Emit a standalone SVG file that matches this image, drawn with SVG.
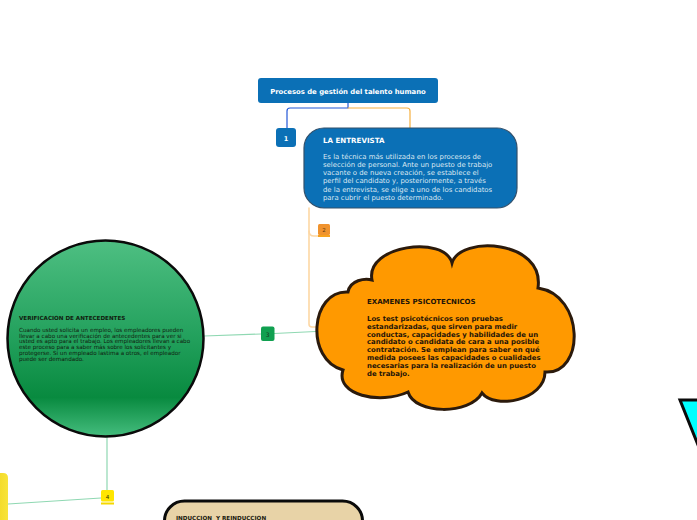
<svg xmlns="http://www.w3.org/2000/svg" width="697" height="520" viewBox="0 0 697 520">
<style>
.t{font-family:"DejaVu Sans","Verdana",sans-serif}
.b{font-weight:bold}
.conn{fill:none;stroke-linecap:round;stroke-linejoin:round}
</style>
<defs>
<linearGradient id="gg" x1="0" y1="0" x2="0" y2="1">
<stop offset="0" stop-color="#4ebf82"/>
<stop offset="0.5" stop-color="#22a05c"/>
<stop offset="0.8" stop-color="#088a3f"/>
<stop offset="1" stop-color="#45bd7e"/>
</linearGradient>
<linearGradient id="yg" x1="0" y1="0" x2="1" y2="0">
<stop offset="0" stop-color="#f0d21a"/>
<stop offset="1" stop-color="#f8e43a"/>
</linearGradient>
</defs>
<rect width="697" height="520" fill="#ffffff"/>

<g id="connectors">
<path class="conn" d="M348,103 V108 M348,108 H290 Q287,108 287,111 V128" stroke="#2358d8" stroke-width="1.2"/>
<path class="conn" d="M348,108 H407 Q410,108 410,111 V128" stroke="#f6b040" stroke-width="1.2"/>
<path class="conn" d="M309,208 V324 Q309,327 312,327 H328" stroke="#fdd7a4" stroke-width="1.6"/>
<path class="conn" d="M309,231 Q309,236 314,236 H318" stroke="#fdd7a4" stroke-width="1.6"/>
<path class="conn" d="M204,336 L261,334 M274,333.5 L326,331" stroke="#8fd8b2" stroke-width="1.2"/>
<path class="conn" d="M107,437 V490 M101,498 L8,504" stroke="#8fd8b2" stroke-width="1.2"/>
</g>

<g id="root">
<rect x="258" y="78" width="180" height="25" rx="3" fill="#0b70b6"/>
<text class="t b" x="348" y="93.5" font-size="6.85" fill="#ffffff" text-anchor="middle">Procesos de gestión del talento humano</text>
</g>

<g id="badge1">
<rect x="276" y="128" width="20" height="19" rx="3" fill="#0b70b6"/>
<text class="t b" x="286" y="140.5" font-size="6.5" fill="#ffffff" text-anchor="middle">1</text>
</g>

<g id="entrevista">
<rect x="304" y="128" width="213" height="80" rx="20" fill="#0b70b6" stroke="#33506b" stroke-width="1.2"/>
<text class="t b" x="323" y="142.5" font-size="7.1" fill="#ffffff">LA ENTREVISTA</text>
<g class="t" font-size="6.9" fill="#dce8f2">
<text x="323" y="158.8">Es la técnica más utilizada en los procesos de</text>
<text x="323" y="167">selección de personal. Ante un puesto de trabajo</text>
<text x="323" y="175.2">vacante o de nueva creación, se establece el</text>
<text x="323" y="183.4">perfil del candidato y, posteriormente, a través</text>
<text x="323" y="191.6">de la entrevista, se elige a uno de los candidatos</text>
<text x="323" y="199.8">para cubrir el puesto determinado.</text>
</g>
</g>

<g id="badge2">
<rect x="318" y="224" width="12" height="11" rx="1.5" fill="#f0932e"/>
<rect x="318" y="235" width="12" height="2" fill="#f7a21e"/>
<text class="t" x="324" y="232" font-size="5.5" fill="#5a3a10" text-anchor="middle">2</text>
</g>

<g id="examenes">
<path d="M372,280 C365,245 445,235 452,263 C460,235 545,240 538,288 C585,295 585,375 545,372 C545,400 495,410 482,393 C470,415 415,415 408,392 C380,405 335,395 343,370 C305,360 310,290 348,292 C350,280 365,278 372,280 Z" fill="#ff9900" stroke="#2b1a0c" stroke-width="3"/>
<text class="t b" x="367" y="303.5" font-size="7" fill="#1e1408">EXAMENES PSICOTECNICOS</text>
<g class="t b" font-size="6.9" fill="#1e1408">
<text x="367" y="320.8">Los test psicotécnicos son pruebas</text>
<text x="367" y="328.7">estandarizadas, que sirven para medir</text>
<text x="367" y="336.5">conductas, capacidades y habilidades de un</text>
<text x="367" y="344.4">candidato o candidata de cara a una posible</text>
<text x="367" y="352.2">contratación. Se emplean para saber en qué</text>
<text x="367" y="360.1">medida posees las capacidades o cualidades</text>
<text x="367" y="368">necesarias para la realización de un puesto</text>
<text x="367" y="375.8">de trabajo.</text>
</g>
</g>

<g id="badge3">
<rect x="261" y="326.5" width="13.5" height="14.5" rx="2" fill="#10a050"/>
<text class="t" x="267.7" y="336.5" font-size="6" fill="#1a3a22" text-anchor="middle">3</text>
</g>

<g id="verificacion">
<circle cx="105.5" cy="338.5" r="98" fill="url(#gg)" stroke="#0a0a0a" stroke-width="2.5"/>
<text class="t b" x="19" y="319.5" font-size="5.6" fill="#10200f">VERIFICACION DE ANTECEDENTES</text>
<g class="t" font-size="5.6" fill="#10200f">
<text x="19" y="331.8">Cuando usted solicita un empleo, los empleadores pueden</text>
<text x="19" y="337.6">llevar a cabo una verificación de antecedentes para ver si</text>
<text x="19" y="343.4">usted es apto para el trabajo. Los empleadores llevan a cabo</text>
<text x="19" y="349.2">este proceso para a saber más sobre los solicitantes y</text>
<text x="19" y="355">protegerse. Si un empleado lastima a otros, el empleador</text>
<text x="19" y="360.8">puede ser demandado.</text>
</g>
</g>

<g id="badge4">
<rect x="101" y="490" width="13" height="11.5" rx="1.5" fill="#ffe600"/>
<rect x="101" y="502.5" width="13" height="2" fill="#f5d800"/>
<text class="t" x="107.5" y="498.5" font-size="5.5" fill="#3a3300" text-anchor="middle">4</text>
</g>

<g id="yellow-node">
<path d="M-10,473 H3 Q8,473 8,478 V530 H-10 Z" fill="url(#yg)"/>
</g>

<g id="induccion">
<rect x="164.5" y="501" width="198" height="60" rx="20" fill="#e8d3a7" stroke="#0a0a0a" stroke-width="3"/>
<text class="t b" x="176" y="519.5" font-size="5.65" fill="#201a10" xml:space="preserve">INDUCCION  Y REINDUCCION</text>
</g>

<g id="triangle">
<polygon points="680,400 760,400 720,500" fill="#00ffff" stroke="#0a0a0a" stroke-width="3"/>
</g>
</svg>
